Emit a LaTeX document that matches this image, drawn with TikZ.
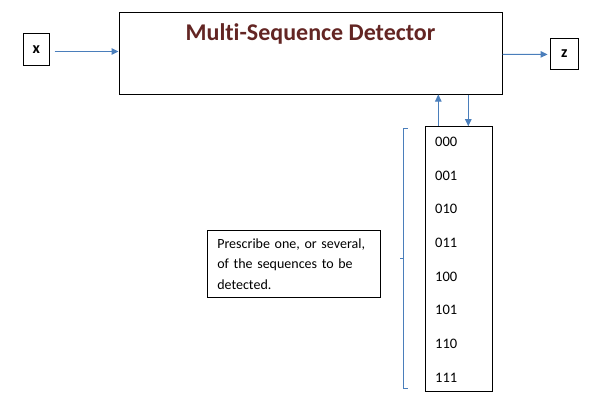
\documentclass[tikz,border=0pt]{standalone}
\usepackage{fontspec}
\setmainfont[Ligatures=NoCommon]{Carlito}
\usetikzlibrary{arrows.meta}
\definecolor{titlered}{HTML}{632523}
\definecolor{linkblue}{HTML}{4A7EBB}
\tikzset{
  box/.style={draw=black, line width=1pt, inner sep=0pt},
  arr/.style={draw=linkblue, line width=1pt, -{Triangle[length=7pt,width=6.5pt]}},
  brk/.style={draw=linkblue, line width=1pt},
  entry/.style={anchor=west, inner sep=0pt, font=\fontsize{14.5}{16}\selectfont}
}
\begin{document}
\begin{tikzpicture}[x=1pt,y=-1pt]
\useasboundingbox (0,0) rectangle (596,405);
\node[box, minimum width=383pt, minimum height=82pt] (main) at (310.5,53) {};
\node[text=titlered, font=\fontsize{24}{28}\selectfont\bfseries, inner sep=0pt, anchor=base] (title) at (310.5,40) {Multi-Sequence Detector};
\node[box, minimum width=26pt, minimum height=32pt, font=\fontsize{16}{18}\selectfont\bfseries] (xbox) at (36.3,49.3) {x};
\node[box, minimum width=28.3pt, minimum height=31pt, font=\fontsize{16}{18}\selectfont\bfseries] (zbox) at (564.2,53.8) {z};
\node[box, minimum width=67pt, minimum height=264.3pt] (list) at (458.8,258.85) {};
\node[box, minimum width=173.4pt, minimum height=66.6pt, text width=153.4pt, align=left, font=\fontsize{14}{20.5}\selectfont] (note) at (294,264) {Prescribe one, or several,\\of the sequences to be\\detected.};
\foreach \i/\t in {0/000,1/001,2/010,3/011,4/100,5/101,6/110,7/111}
  \node[entry] (e\i) at (435,141.7+33.7*\i) {\t};
\coordinate (upx) at (438.3,0);
\coordinate (dnx) at (468.3,0);
\draw[arr] ([xshift=4.7pt,yshift=-2.2pt]xbox.east) -- ([yshift=1.5pt]main.west);
\draw[arr] ([yshift=-1.4pt]main.east) -- ([xshift=-2pt,yshift=-0.6pt]zbox.west);
\draw[arr] (list.north -| upx) -- (main.south -| upx);
\draw[arr] (main.south -| dnx) -- (list.north -| dnx);
\draw[brk] (407.5,128.3) -- (403.3,128.3) -- (403.3,388.7) -- (407.5,388.7);
\draw[brk] (403.3,258.3) -- (399.5,258.3);
\end{tikzpicture}
\end{document}
